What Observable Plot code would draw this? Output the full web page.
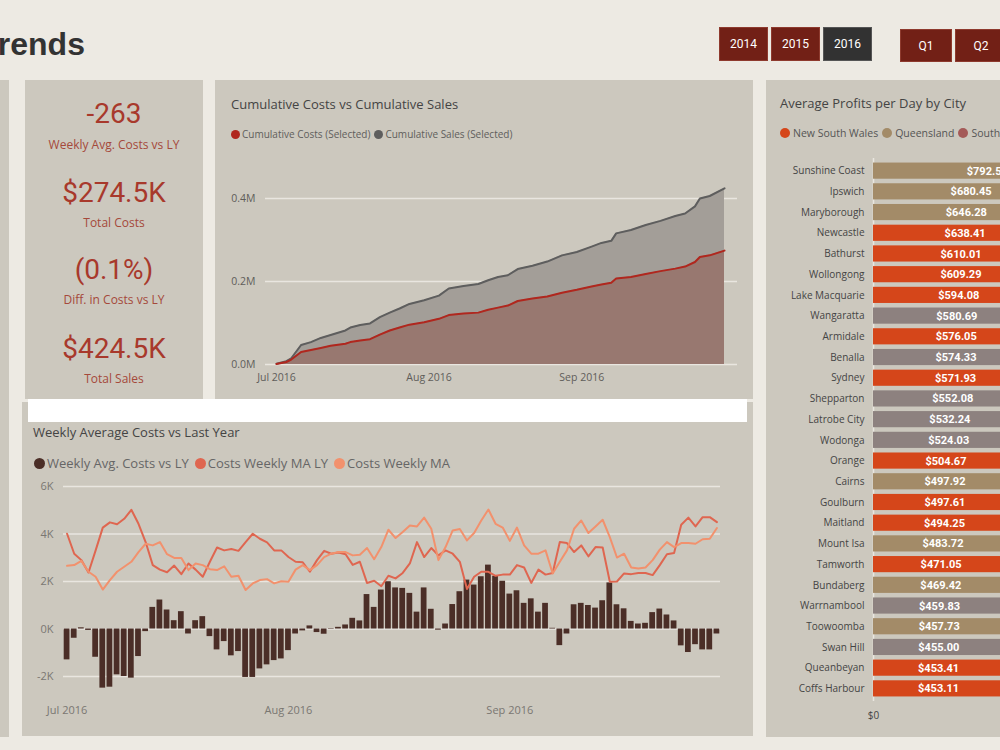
<!DOCTYPE html>
<html><head><meta charset="utf-8">
<script src="https://cdn.jsdelivr.net/npm/d3@7"></script>
<script src="https://cdn.jsdelivr.net/npm/@observablehq/plot@0.6"></script>
<style>
html,body{margin:0;padding:0;}
body{width:1000px;height:750px;overflow:hidden;background:#EDEAE3;position:relative;font-family:"Open Sans",sans-serif;}
.panel{position:absolute;background:#CCC8BE;}
.t{position:absolute;white-space:nowrap;line-height:1;}
.btn{position:absolute;color:#fff;font-family:Roboto,sans-serif;font-size:12px;display:flex;align-items:center;justify-content:center;box-sizing:border-box;}
.red{background:#722016;border:1px solid #8E3A2E;}
.dark{background:#323232;border:1px solid #555;}
.legend{position:absolute;display:flex;align-items:center;white-space:nowrap;height:16px;line-height:16px;}
.legend .it{display:flex;align-items:center;}
.legend .dot{display:inline-block;border-radius:50%;}
.chart{position:absolute;}
.chart svg{max-width:none !important;background:transparent !important;overflow:visible;}
.kpi{position:absolute;left:25px;width:178px;text-align:center;white-space:nowrap;line-height:1;}
.kv{font-family:Roboto,sans-serif;font-size:28px;color:#A8392C;}
.kl{font-family:"Open Sans",sans-serif;font-size:12px;color:#A5493B;}
</style></head><body>

<div class="t" style="left:-20px;top:28px;font-family:'Liberation Sans',Arial,sans-serif;font-weight:bold;font-size:32px;color:#333;">Trends</div>
<div class="btn red" style="left:719px;top:27px;width:49px;height:34px;">2014</div>
<div class="btn red" style="left:771px;top:27px;width:49px;height:34px;">2015</div>
<div class="btn dark" style="left:823px;top:27px;width:49px;height:34px;">2016</div>
<div class="btn red" style="left:900px;top:29px;width:52px;height:33px;">Q1</div>
<div class="btn red" style="left:955px;top:29px;width:52px;height:33px;">Q2</div>

<div class="panel" style="left:0;top:80px;width:9px;height:657px;"></div>
<div class="panel" style="left:25px;top:80px;width:178px;height:319px;"></div>
<div class="panel" style="left:215px;top:80px;width:538px;height:319px;"></div>
<div class="panel" style="left:22px;top:402px;width:731px;height:334px;"></div>
<div class="panel" style="left:766px;top:80px;width:300px;height:657px;"></div>
<div style="position:absolute;left:28px;top:399px;width:719px;height:23px;background:#FFFFFF;"></div>

<div class="kpi kv" style="top:100px;">-263</div>
<div class="kpi kl" style="top:139px;">Weekly Avg. Costs vs LY</div>
<div class="kpi kv" style="top:179px;">$274.5K</div>
<div class="kpi kl" style="top:217px;">Total Costs</div>
<div class="kpi kv" style="top:256px;">(0.1%)</div>
<div class="kpi kl" style="top:294px;">Diff. in Costs vs LY</div>
<div class="kpi kv" style="top:335px;">$424.5K</div>
<div class="kpi kl" style="top:373px;">Total Sales</div>

<div class="t" style="left:231px;top:98px;font-size:13px;color:#444;">Cumulative Costs vs Cumulative Sales</div>
<div class="legend" style="left:231px;top:126px;font-size:10px;color:#605E5C;">
  <span class="it"><span class="dot" style="width:9px;height:9px;background:#B0271E;margin-right:2px;"></span>Cumulative Costs (Selected)</span>
  <span class="it" style="margin-left:4px;"><span class="dot" style="width:9px;height:9px;background:#5E5E5E;margin-right:2px;"></span>Cumulative Sales (Selected)</span>
</div>
<div class="chart" id="cum" style="left:215px;top:150px;width:538px;"></div>

<div class="t" style="left:33px;top:426px;font-size:13px;color:#444;">Weekly Average Costs vs Last Year</div>
<div class="legend" style="left:34px;top:455px;font-size:13px;color:#666;">
  <span class="it"><span class="dot" style="width:11px;height:11px;background:#4B2E27;margin-right:2px;"></span>Weekly Avg. Costs vs LY</span>
  <span class="it" style="margin-left:6px;"><span class="dot" style="width:11px;height:11px;background:#DF6650;margin-right:2px;"></span>Costs Weekly MA LY</span>
  <span class="it" style="margin-left:6px;"><span class="dot" style="width:11px;height:11px;background:#F2916D;margin-right:2px;"></span>Costs Weekly MA</span>
</div>
<div class="chart" id="weekly" style="left:22px;top:475px;width:730px;"></div>

<div class="t" style="left:780px;top:97px;font-size:13px;color:#444;">Average Profits per Day by City</div>
<div class="legend" style="left:780px;top:125px;font-size:10.5px;color:#555;">
  <span class="it"><span class="dot" style="width:10px;height:10px;background:#D5461A;margin-right:3px;"></span>New South Wales</span>
  <span class="it" style="margin-left:4px;"><span class="dot" style="width:10px;height:10px;background:#A38B68;margin-right:3px;"></span>Queensland</span>
  <span class="it" style="margin-left:4px;"><span class="dot" style="width:10px;height:10px;background:#A45A58;margin-right:3px;"></span>South Australia</span>
  <span class="it" style="margin-left:4px;"><span class="dot" style="width:10px;height:10px;background:#8D817F;margin-right:3px;"></span>Victoria</span>
</div>
<div class="chart" id="cities" style="left:765px;top:145px;width:420px;"></div>

<script>
// ---------- Cumulative Costs vs Cumulative Sales (values in $K) ----------
const cumDates = ["2016-07-01","2016-07-03","2016-07-04","2016-07-06","2016-07-08","2016-07-10","2016-07-12","2016-07-15","2016-07-16","2016-07-18","2016-07-20","2016-07-22","2016-07-24","2016-07-26","2016-07-28","2016-07-31","2016-08-03","2016-08-05","2016-08-08","2016-08-11","2016-08-13","2016-08-15","2016-08-17","2016-08-19","2016-08-22","2016-08-25","2016-08-28","2016-08-31","2016-09-03","2016-09-05","2016-09-07","2016-09-08","2016-09-11","2016-09-14","2016-09-17","2016-09-20","2016-09-22","2016-09-24","2016-09-25","2016-09-27","2016-09-30"];
const cumSales = [2,8,15,47,54,64,71,82,89,95,99,114,125,135,146,155,166,183,189,194,203,211,215,230,238,248,263,271,284,293,298,316,324,336,346,358,364,381,400,406,424.5];
const cumCosts = [1,6,12,30,35,40,45,50,54,58,61,72,82,89,96,102,110,119,123,125,132,137,142,153,159,164,173,180,188,193,197,207,211,218,225,231,236,247,259,263,274.5];
const cumTicks = [0,200,400];
const monthTicks = ["2016-07-01","2016-08-01","2016-09-01"];

// ---------- Weekly Average Costs vs Last Year (values in $K, one per day Jul 1 - Sep 30) ----------
const weeklyVsLY = [-1.30,-0.39,0.05,-0.06,-1.19,-2.49,-2.45,-1.93,-2.00,-2.07,
  -1.16,-0.11,0.91,1.22,0.80,0.35,0.73,-0.21,0.35,0.52,
  -0.32,-0.88,-0.53,-1.13,-0.95,-2.04,-2.04,-1.68,-1.51,-1.33,
  -1.26,-0.91,-0.21,-0.08,0.13,-0.15,-0.22,-0.02,0.07,0.17,
  0.45,0.34,1.45,0.91,1.64,1.99,1.73,1.71,1.50,0.71,
  1.73,0.83,-0.05,0.21,1.03,1.57,2.06,1.85,2.20,2.69,
  2.22,2.01,1.47,1.61,1.08,1.27,0.71,1.08,0.03,-0.70,
  -0.21,1.02,1.08,0.99,0.88,1.19,1.94,1.02,0.85,0.32,
  0.21,0.24,0.69,0.84,0.59,0.34,-0.71,-0.99,-0.66,-0.88,
  -0.88,-0.21];
const costsMALY = [4.01,3.17,2.90,2.38,3.31,4.27,4.49,4.41,4.64,5.02,
  4.43,3.66,2.69,2.50,2.39,2.67,2.31,2.76,2.50,2.20,
  2.83,3.43,3.31,3.37,3.29,3.66,4.01,3.80,3.65,3.31,
  3.31,3.03,2.83,2.81,2.41,2.90,3.29,3.17,3.22,3.15,
  2.70,2.83,1.94,2.03,1.80,2.24,2.13,2.36,2.76,3.66,
  3.03,3.41,3.10,3.31,3.17,2.83,1.68,2.20,2.41,2.41,
  2.24,2.29,2.29,2.69,2.59,1.94,2.50,2.29,2.36,3.66,
  3.62,3.24,3.52,3.06,3.45,3.43,1.99,2.00,2.34,2.31,
  2.36,2.36,2.27,2.69,3.15,3.20,4.39,4.69,4.32,4.71,
  4.71,4.50];
const costsMA = [2.66,2.69,2.87,2.41,2.20,1.66,2.06,2.41,2.62,2.83,
  3.24,3.59,3.52,3.66,3.15,2.99,2.99,2.48,2.76,2.69,
  2.52,2.48,2.64,2.20,2.24,1.64,1.92,2.06,2.10,1.92,
  2.01,1.99,2.50,2.69,2.48,2.69,3.03,3.17,3.24,3.24,
  3.10,3.13,3.41,2.94,3.45,4.18,3.83,4.08,4.36,4.32,
  4.69,4.22,2.90,3.45,4.15,4.21,3.73,4.04,4.57,5.03,
  4.43,4.27,3.71,4.27,3.52,3.17,3.17,3.31,2.34,2.83,
  3.31,4.22,4.57,4.04,4.32,4.60,3.87,3.01,3.17,2.59,
  2.55,2.59,2.90,3.34,3.66,3.45,3.62,3.62,3.59,3.78,
  3.80,4.25];
const weeklyTicks = [-2,0,2,4,6];

// ---------- Average Profits per Day by City ----------
const cities = ["Sunshine Coast","Ipswich","Maryborough","Newcastle","Bathurst","Wollongong","Lake Macquarie","Wangaratta","Armidale","Benalla","Sydney","Shepparton","Latrobe City","Wodonga","Orange","Cairns","Goulburn","Maitland","Mount Isa","Tamworth","Bundaberg","Warrnambool","Toowoomba","Swan Hill","Queanbeyan","Coffs Harbour"];
const profits = [792.52,680.45,646.28,638.41,610.01,609.29,594.08,580.69,576.05,574.33,571.93,552.08,532.24,524.03,504.67,497.92,497.61,494.25,483.72,471.05,469.42,459.83,457.73,455.00,453.41,453.11];
const cityState = ["Queensland","Queensland","Queensland","New South Wales","New South Wales","New South Wales","New South Wales","Victoria","New South Wales","Victoria","New South Wales","Victoria","Victoria","Victoria","New South Wales","Queensland","New South Wales","New South Wales","Queensland","New South Wales","Queensland","Victoria","Queensland","Victoria","New South Wales","New South Wales"];
const stateNames = ["New South Wales","Queensland","South Australia","Victoria"];
const stateColors = ["#D5461A","#A38B68","#A45A58","#8D817F"];
const cityTicks = [0,500];

// ---------- build ----------
const parse = s => new Date(s + "T00:00:00Z");
const fmtMonth = d3.utcFormat("%b %Y");

const cumData = cumDates.map((d,i) => ({date: parse(d), sales: cumSales[i], costs: cumCosts[i]}));
document.getElementById("cum").append(Plot.plot({
  width: 538, height: 240, marginLeft: 50, marginRight: 16, marginTop: 48, marginBottom: 26,
  style: {background: "transparent", fontFamily: "'Open Sans', sans-serif", fontSize: "10.5px", color: "#5F5D5A", overflow: "visible"},
  x: {type: "utc", domain: [parse("2016-07-01"), parse("2016-09-30")], range: [61, 509],
      ticks: monthTicks.map(parse), tickFormat: fmtMonth, tickSize: 0, tickPadding: 9, label: null},
  y: {domain: [0, 400], ticks: cumTicks, tickFormat: d => (d/1000).toFixed(1) + "M", tickSize: 0, tickPadding: 10, label: null},
  marks: [
    Plot.ruleY(cumTicks, {stroke: "#E9E6E0", strokeWidth: 1.5}),
    Plot.areaY(cumData, {x: "date", y: "sales", fill: "#A39E98"}),
    Plot.areaY(cumData, {x: "date", y: "costs", fill: "#987870"}),
    Plot.lineY(cumData, {x: "date", y: "sales", stroke: "#5E5E5E", strokeWidth: 2}),
    Plot.lineY(cumData, {x: "date", y: "costs", stroke: "#B0271E", strokeWidth: 2})
  ]
}));

const weekDays = d3.utcDay.range(parse("2016-07-01"), parse("2016-10-01"));
const weekly = weekDays.map((date,i) => ({date, vsLY: weeklyVsLY[i], maLY: costsMALY[i], ma: costsMA[i]}));
document.getElementById("weekly").append(Plot.plot({
  width: 730, height: 250, marginLeft: 41, marginRight: 32, marginTop: 11, marginBottom: 49,
  style: {background: "transparent", fontFamily: "'Open Sans', sans-serif", fontSize: "11px", color: "#7A7772", overflow: "visible"},
  x: {type: "utc", domain: [d3.utcHour.offset(parse("2016-06-30"), 12), d3.utcHour.offset(parse("2016-09-30"), 12)],
      ticks: monthTicks.map(parse), tickFormat: fmtMonth, tickSize: 0, tickPadding: 30, label: null},
  y: {domain: [-2, 6], ticks: weeklyTicks, tickFormat: d => d + "K", tickSize: 0, tickPadding: 10, label: null},
  marks: [
    Plot.ruleY(weeklyTicks, {stroke: "#E9E6E0", strokeWidth: 1.5}),
    Plot.rect(weekly, {x1: d => d3.utcHour.offset(d.date, -12), x2: d => d3.utcHour.offset(d.date, 12), y1: 0, y2: "vsLY", fill: "#4B2E27", insetLeft: 0.7, insetRight: 0.7}),
    Plot.line(weekly, {x: "date", y: "maLY", stroke: "#DF6650", strokeWidth: 2}),
    Plot.line(weekly, {x: "date", y: "ma", stroke: "#F2916D", strokeWidth: 2})
  ]
}));

const cityData = cities.map((c,i) => ({city: c, value: profits[i], state: cityState[i]}));
document.getElementById("cities").append(Plot.plot({
  width: 420, height: 586, marginLeft: 108, marginRight: 25, marginTop: 13, marginBottom: 30,
  style: {background: "transparent", fontFamily: "'Open Sans', sans-serif", fontSize: "10px", color: "#444", overflow: "visible"},
  x: {domain: [0, 1000], ticks: cityTicks, tickFormat: d => "$" + d, tickSize: 0, tickPadding: 10, label: null},
  y: {domain: cities, padding: 0.22, round: false, tickSize: 0, tickPadding: 9, label: null},
  color: {domain: stateNames, range: stateColors},
  marks: [
    Plot.ruleX([0], {stroke: "#E9E6E0", strokeWidth: 1.5}),
    Plot.barX(cityData, {x: "value", y: "city", fill: "state"}),
    Plot.text(cityData, {x: d => d.value / 2, y: "city", text: d => "$" + d.value.toFixed(2), fill: "white", fontWeight: "bold", fontSize: 11, fontFamily: "Roboto, sans-serif"})
  ]
}));
</script>
</body></html>
